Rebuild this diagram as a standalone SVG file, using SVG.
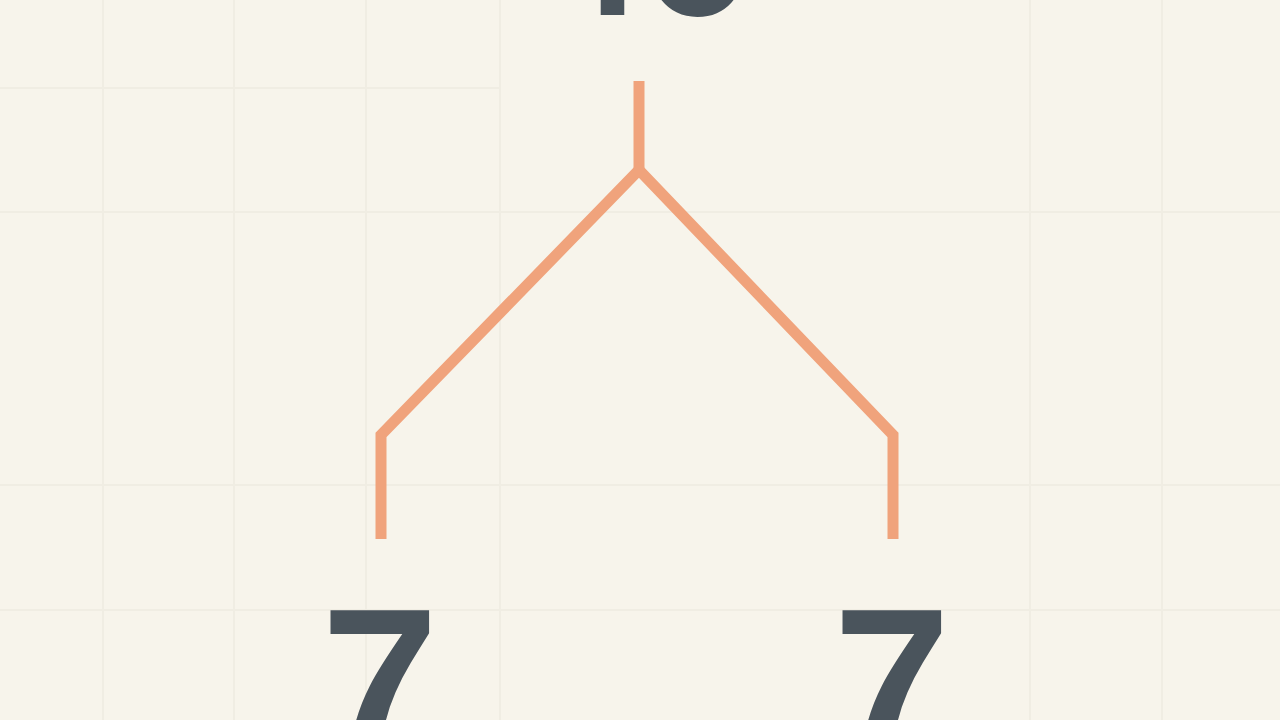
<svg xmlns="http://www.w3.org/2000/svg" width="1280" height="720" viewBox="0 0 1280 720">
  <defs>
    <style>
      .bg { fill: #f7f4eb; }
      .grid line { stroke: #f0ede3; stroke-width: 2; }
      .num { font-family: "Liberation Sans", Arial, sans-serif; font-weight: 700; font-size: 210px; fill: #4a545c; text-anchor: middle; }
      .num-top { font-family: Roboto, "Liberation Sans", sans-serif; font-size: 200px; font-weight: 500; letter-spacing: -25px; }
      .bond { fill: none; stroke: #f0a37c; stroke-width: 11; stroke-linecap: butt; stroke-linejoin: miter; }
    </style>
  </defs>
  <rect class="bg" x="0" y="0" width="1280" height="720"/>
  <g class="grid">
    <line x1="103" y1="0" x2="103" y2="720"/>
    <line x1="234" y1="0" x2="234" y2="720"/>
    <line x1="366" y1="0" x2="366" y2="720"/>
    <line x1="500" y1="0" x2="500" y2="720"/>
    <line x1="1030" y1="0" x2="1030" y2="720"/>
    <line x1="1162" y1="0" x2="1162" y2="720"/>
    <line x1="0" y1="88" x2="500" y2="88"/>
    <line x1="0" y1="212" x2="1280" y2="212"/>
    <line x1="0" y1="485" x2="1280" y2="485"/>
    <line x1="0" y1="610" x2="1280" y2="610"/>
  </g>
  <g id="connectors">
    <path class="bond" d="M639,81 V170"/>
    <path class="bond" d="M381,539 V435 L639,170 L893,435 V539"/>
  </g>
  <g id="node-top">
    <text class="num num-top" x="638" y="15">16</text>
  </g>
  <g id="node-left">
    <text class="num" x="380" y="755">7</text>
  </g>
  <g id="node-right">
    <text class="num" x="892" y="755">7</text>
  </g>
</svg>
